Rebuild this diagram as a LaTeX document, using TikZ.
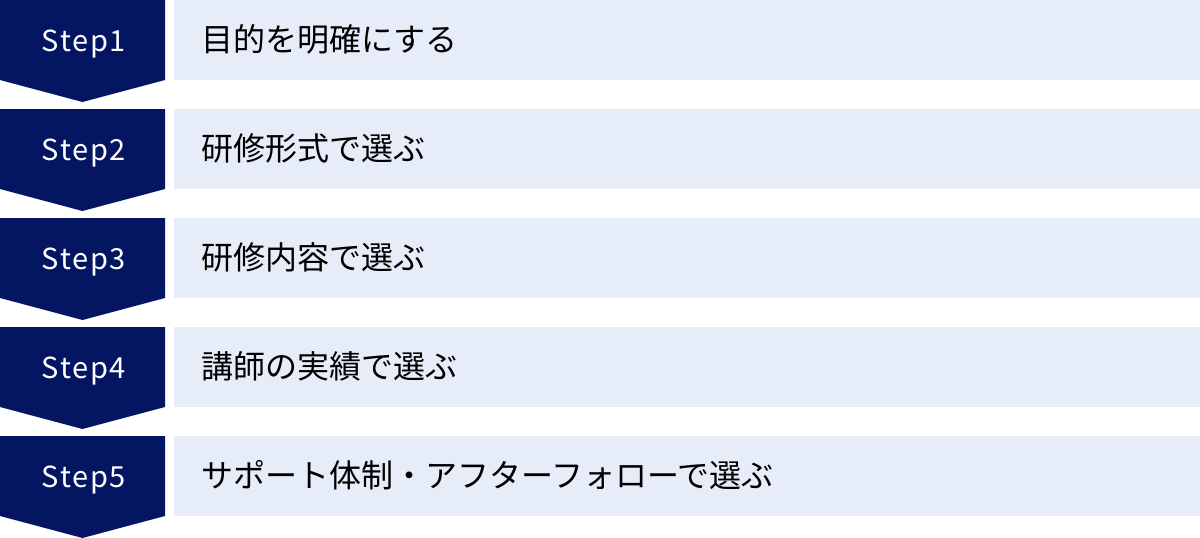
\documentclass[tikz,border=0pt]{standalone}
\usepackage{fontspec}
\setmainfont{Noto Sans CJK JP}
\newfontfamily\stepfont[LetterSpace=6]{Noto Sans CJK JP}
\definecolor{navy}{HTML}{041562}
\definecolor{pale}{HTML}{E7ECF9}
\tikzset{
  stepshape/.style={fill=navy, draw=none},
  barshape/.style={fill=pale, draw=none},
  steplabel/.style={text=white, font=\stepfont\fontsize{29}{34}\selectfont, anchor=base, inner sep=0pt},
  itemlabel/.style={text=black, font=\fontsize{32}{38}\selectfont, anchor=base west, inner sep=0pt},
}
\begin{document}
\begin{tikzpicture}[x=1pt,y=-1pt]
\useasboundingbox (0,0) rectangle (1200,538);
\foreach \i/\t in {1/目的を明確にする,2/研修形式で選ぶ,3/研修内容で選ぶ,4/講師の実績で選ぶ,5/サポート体制・アフターフォローで選ぶ}{
  \pgfmathsetmacro{\top}{(\i-1)*109}
  \fill[stepshape] (0,\top) -- (165,\top) -- (165,\top+80) -- (82.5,\top+102) -- (0,\top+80) -- cycle;
  \fill[barshape] (174,\top) rectangle (1200,\top+80);
  \node[steplabel] (s\i) at (84,\top+51.7) {Step\i};
  \node[itemlabel] (t\i) at (201,\top+51) {\t};
}
\end{tikzpicture}
\end{document}
